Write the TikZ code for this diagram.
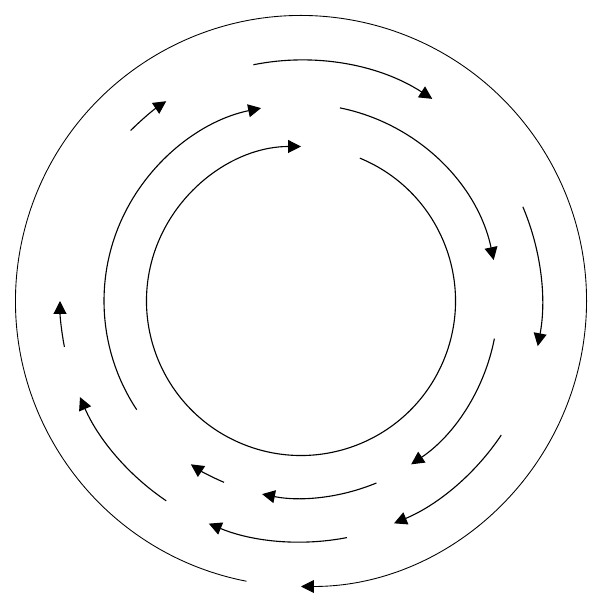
\documentclass[tikz,border=0pt]{standalone}
\usetikzlibrary{arrows.meta}
\newcommand\ringarc[4]{\draw[#1] ([shift={(#2:#4)}]c) arc[start angle=#2, end angle=#3, radius=#4];}
\begin{document}
\begin{tikzpicture}[x=0.03cm,y=0.03cm,
  flow/.style={line width=0.95pt, -{Triangle[length=11pt,width=11pt]}},
  rim/.style={line width=0.75pt, -{Triangle[length=11pt,width=11pt]}}]
\useasboundingbox (0,0) rectangle (600,600);
\coordinate (c) at (301,299);
% outer circle
\ringarc{rim}{259}{-90}{285.5}
% inner circle
\ringarc{flow}{67.6}{-270}{154.5}
% ring r=197
\ringarc{flow}{78.6}{12}{197}
\ringarc{flow}{-11}{-56}{197}
\ringarc{flow}{-67.5}{-101.4}{197}
\ringarc{flow}{-113}{-124}{197}
\ringarc{flow}{213.5}{101.7}{197}
% ring r=241
\ringarc{flow}{101.4}{57}{241}
\ringarc{flow}{23}{-10.8}{241}
\ringarc{flow}{-33.8}{-67.3}{241}
\ringarc{flow}{-79}{-112.5}{241}
\ringarc{flow}{-124}{-156.5}{241}
\ringarc{flow}{-169}{-180}{241}
\ringarc{flow}{135}{124}{241}
\end{tikzpicture}
\end{document}
